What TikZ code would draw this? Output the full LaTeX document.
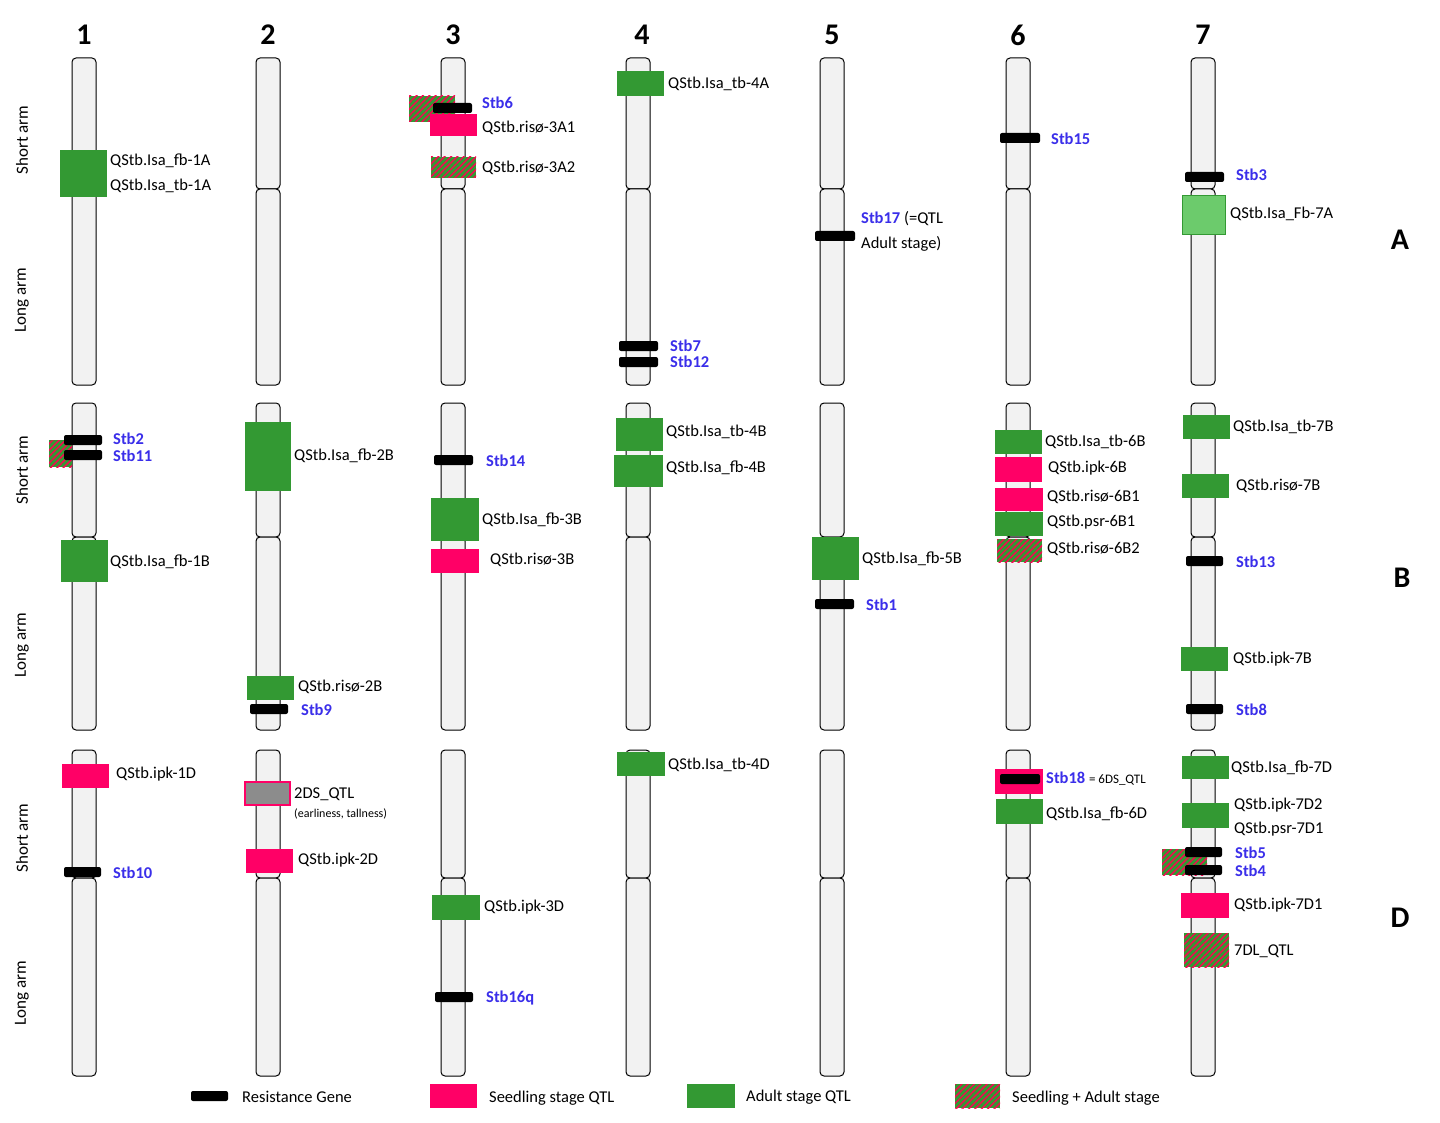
\documentclass[tikz,border=0pt]{standalone}
\usepackage{fontspec}
\setmainfont{Carlito}
\usetikzlibrary{patterns.meta}
\definecolor{qg}{HTML}{339933}
\definecolor{qp}{HTML}{FF0066}
\definecolor{qlg}{HTML}{6CCB6C}
\definecolor{sb}{HTML}{3A2EEA}
\definecolor{chr}{HTML}{F2F2F2}
\tikzset{
 chrom/.style={draw=black,fill=chr,line width=1pt,rounded corners=4pt},
 green/.style={fill=qg},
 lgreen/.style={fill=qlg,draw=qg,line width=0.8pt},
 pink/.style={fill=qp},
 gray/.style={fill=gray!90,draw=qp,line width=1.2pt},
 hatch/.style={fill=qg,postaction={pattern={Lines[angle=45,distance=4.5pt,line width=1.4pt]},pattern color=qp!80!red}},
 lbl/.style={anchor=west,inner sep=0pt,font=\fontsize{16.5}{19}\selectfont},
 stb/.style={lbl,text=sb,font=\fontsize{16.5}{19}\selectfont\bfseries},
 armlbl/.style={rotate=90,font=\fontsize{17}{19}\selectfont},
 big/.style={font=\fontsize{30}{32}\selectfont\bfseries}
}
\newcommand{\chromo}[4]{% x, top, cen, bottom
 \path[chrom] (#1-12,#2) rectangle (#1+12,#3);
 \path[chrom] (#1-12,#3) rectangle (#1+12,#4);}
\newcommand{\qbx}[5]{\path[#1] (#2,#3) rectangle (#4,#5);}
\newcommand{\rbar}[3]{\path[fill=black,rounded corners=2pt] (#1,#3-5) rectangle (#2,#3+5);}
\begin{document}
\begin{tikzpicture}[x=1pt,y=-1pt]
\useasboundingbox[fill=white] (0,0) rectangle (1440,1123);
% column numbers
\foreach \n/\x in {1/84,2/268,3/453,4/642,5/832,6/1018,7/1203}
 \node[big] (c\n) at (\x,35) {\n};
\node[big] (rA) at (1400,240) {A};
\node[big] (rB) at (1402,578) {B};
\node[big] (rD) at (1400,918) {D};
\foreach \yy/\t in {140/Short arm,300/Long arm,470/Short arm,645/Long arm,838/Short arm,993/Long arm}
 \node[armlbl] at (22,\yy) {\t};
% chromosomes
\foreach \x in {84,268,453,638,832,1018,1203}{
 \chromo{\x}{58}{189}{385}
 \chromo{\x}{403}{537}{730}
 \chromo{\x}{750}{878}{1076}}
% Row A
\qbx{green}{60}{150}{107}{197}
\node[lbl] at (110,161) {QStb.Isa\_fb-1A};
\node[lbl] at (110,186) {QStb.Isa\_tb-1A};
\qbx{hatch}{409}{96}{455}{122}
\qbx{pink}{430}{114}{477}{136}
\rbar{433}{472}{108}
\node[stb] at (482,103) {Stb6};
\node[lbl] at (482,128) {QStb.risø-3A1};
\qbx{hatch}{431}{157}{476}{178}
\node[lbl] at (482,168) {QStb.risø-3A2};
\qbx{green}{617}{71}{664}{96}
\node[lbl] at (668,84) {QStb.Isa\_tb-4A};
\rbar{619}{658}{346}\rbar{619}{658}{362}
\node[stb] at (670,346) {Stb7};
\node[stb] at (670,362) {Stb12};
\rbar{815}{855}{236}
\node[lbl] at (861,219) {\textcolor{sb}{\bfseries Stb17} (=QTL};
\node[lbl] at (861,244) {Adult stage)};
\rbar{1000}{1040}{138}
\node[stb] at (1051,139) {Stb15};
\rbar{1185}{1224}{177}
\node[stb] at (1236,175) {Stb3};
\qbx{lgreen}{1182}{195}{1225}{234}
\node[lbl] at (1230,214) {QStb.Isa\_Fb-7A};
% Row B
\qbx{hatch}{49}{440}{72}{467}
\rbar{64}{102}{440}\rbar{64}{102}{455}
\node[stb] at (113,439) {Stb2};
\node[stb] at (113,456) {Stb11};
\qbx{green}{61}{540}{108}{582}
\node[lbl] at (110,562) {QStb.Isa\_fb-1B};
\qbx{green}{245}{422}{291}{491}
\node[lbl] at (294,456) {QStb.Isa\_fb-2B};
\qbx{green}{247}{676}{294}{700}
\node[lbl] at (298,687) {QStb.risø-2B};
\rbar{250}{288}{709}
\node[stb] at (301,710) {Stb9};
\rbar{434}{473}{460}
\node[stb] at (486,461) {Stb14};
\qbx{green}{431}{498}{479}{541}
\node[lbl] at (482,520) {QStb.Isa\_fb-3B};
\qbx{pink}{431}{549}{479}{573}
\node[lbl] at (490,560) {QStb.risø-3B};
\qbx{green}{616}{418}{663}{451}
\node[lbl] at (666,432) {QStb.Isa\_tb-4B};
\qbx{green}{614}{455}{663}{487}
\node[lbl] at (666,468) {QStb.Isa\_fb-4B};
\qbx{green}{812}{537}{859}{580}
\node[lbl] at (862,559) {QStb.Isa\_fb-5B};
\rbar{815}{854}{604}
\node[stb] at (866,605) {Stb1};
\qbx{green}{995}{430}{1042}{454}
\node[lbl] at (1045,442) {QStb.Isa\_tb-6B};
\qbx{pink}{995}{457}{1042}{482}
\node[lbl] at (1048,468) {QStb.ipk-6B};
\qbx{pink}{995}{488}{1043}{511}
\node[lbl] at (1047,497) {QStb.risø-6B1};
\qbx{green}{995}{512}{1043}{536}
\node[lbl] at (1047,522) {QStb.psr-6B1};
\qbx{hatch}{997}{539}{1042}{562}
\node[lbl] at (1047,549) {QStb.risø-6B2};
\qbx{green}{1183}{415}{1230}{439}
\node[lbl] at (1233,427) {QStb.Isa\_tb-7B};
\qbx{green}{1182}{474}{1229}{498}
\node[lbl] at (1236,486) {QStb.risø-7B};
\rbar{1186}{1223}{561}
\node[stb] at (1236,562) {Stb13};
\qbx{green}{1181}{647}{1228}{671}
\node[lbl] at (1233,659) {QStb.ipk-7B};
\rbar{1186}{1223}{709}
\node[stb] at (1236,710) {Stb8};
% Row D
\qbx{pink}{62}{764}{109}{788}
\node[lbl] at (116,774) {QStb.ipk-1D};
\rbar{64}{101}{872}
\node[stb] at (113,873) {Stb10};
\qbx{gray}{245}{782}{290}{805}
\node[lbl] at (294,794) {2DS\_QTL};
\node[lbl,font=\fontsize{12}{14}\selectfont] at (294,814) {(earliness, tallness)};
\qbx{pink}{246}{849}{293}{873}
\node[lbl] at (298,860) {QStb.ipk-2D};
\qbx{green}{432}{895}{480}{920}
\node[lbl] at (484,907) {QStb.ipk-3D};
\rbar{435}{473}{997}
\node[stb] at (486,998) {Stb16q};
\qbx{green}{617}{752}{665}{776}
\node[lbl] at (668,765) {QStb.Isa\_tb-4D};
\qbx{pink}{995}{769}{1043}{794}
\rbar{1000}{1040}{779}
\node[lbl] at (1046,779) {\textcolor{sb}{\bfseries Stb18} {\fontsize{13}{15}\selectfont = 6DS\_QTL}};
\qbx{green}{996}{799}{1043}{824}
\node[lbl] at (1046,814) {QStb.Isa\_fb-6D};
\qbx{green}{1182}{756}{1229}{779}
\node[lbl] at (1231,768) {QStb.Isa\_fb-7D};
\qbx{green}{1182}{803}{1229}{828}
\node[lbl] at (1234,805) {QStb.ipk-7D2};
\node[lbl] at (1234,829) {QStb.psr-7D1};
\qbx{hatch}{1162}{849}{1207}{875}
\rbar{1185}{1222}{852}\rbar{1185}{1222}{870}
\node[stb] at (1235,853) {Stb5};
\node[stb] at (1235,871) {Stb4};
\qbx{pink}{1181}{893}{1229}{918}
\node[lbl] at (1234,905) {QStb.ipk-7D1};
\qbx{hatch}{1184}{933}{1229}{967}
\node[lbl] at (1234,951) {7DL\_QTL};
% legend
\rbar{191}{228}{1096}
\node[lbl] at (242,1097) {Resistance Gene};
\qbx{pink}{430}{1084}{477}{1108}
\node[lbl] at (489,1098) {Seedling stage QTL};
\qbx{green}{687}{1084}{735}{1108}
\node[lbl] at (746,1097) {Adult stage QTL};
\qbx{hatch}{955}{1084}{1000}{1108}
\node[lbl] at (1012,1098) {Seedling + Adult stage};
\end{tikzpicture}
\end{document}
